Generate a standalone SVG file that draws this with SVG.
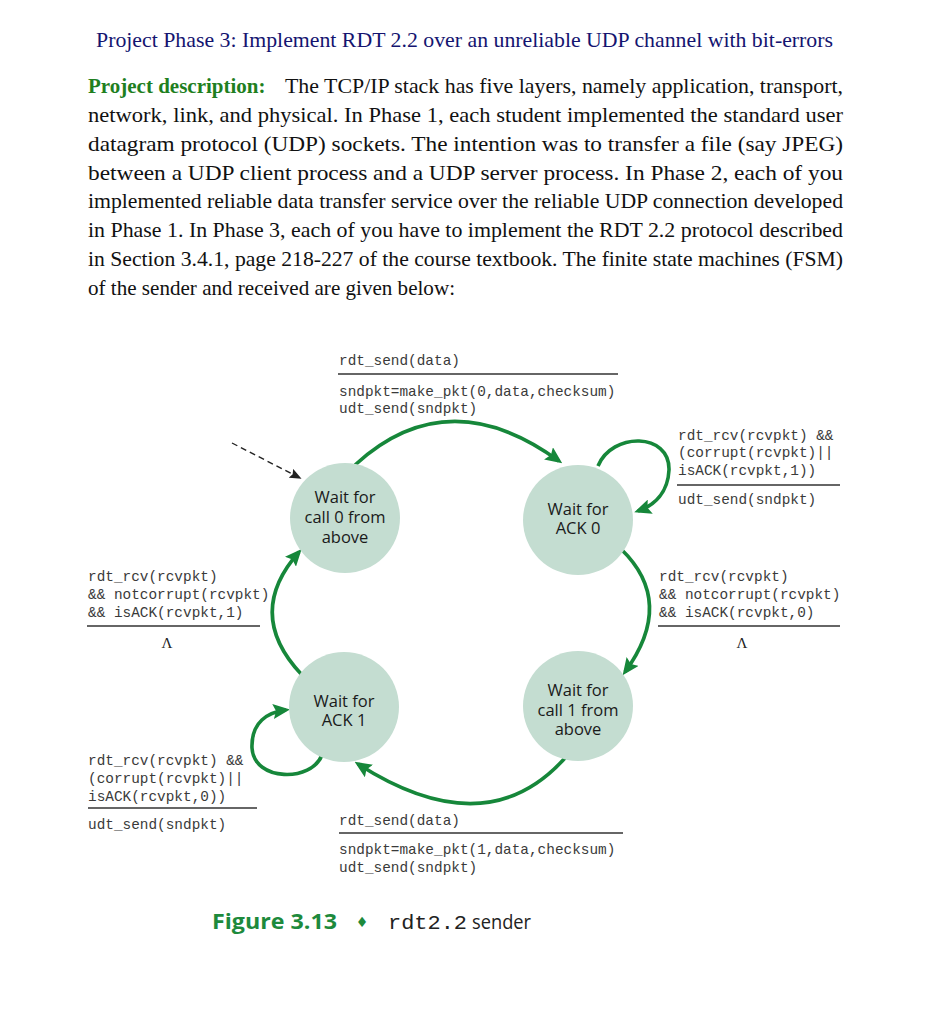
<svg xmlns="http://www.w3.org/2000/svg" width="932" height="1024" viewBox="0 0 932 1024">
<defs>
<style>
.title{font-family:"Liberation Serif","Times New Roman",serif;font-size:22px;fill:#141470}
.para{font-family:"Liberation Serif","Times New Roman",serif;font-size:21px;fill:#111}
.parab{font-family:"Liberation Serif","Times New Roman",serif;font-size:21px;font-weight:bold;fill:#1f7f1f}
.mono{font-family:"Liberation Mono","Courier New",monospace;font-size:14.4px;fill:#3a3a3a}
.lam{font-family:"Liberation Serif","Times New Roman",serif;font-size:15px;fill:#222}
.rule{stroke:#333;stroke-width:1.6}
.state{fill:#c4ddd1}
.stxt{font-family:"Open Sans","Noto Sans",sans-serif;font-size:16.5px;fill:#1a1a1a;text-anchor:middle}
.edge{fill:none;stroke:#16873a;stroke-width:3.6;marker-end:url(#ah)}
.init{fill:none;stroke:#222;stroke-width:1.4;stroke-dasharray:6 4;marker-end:url(#ahd)}
.capb{font-family:"Open Sans","Noto Sans",sans-serif;font-size:21px;font-weight:bold;fill:#1d8a3c}
.capm{font-family:"Liberation Mono","Courier New",monospace;font-size:20px;fill:#222}
.caps{font-family:"Open Sans","Noto Sans",sans-serif;font-size:20px;fill:#222}
</style>
<marker id="ah" markerUnits="userSpaceOnUse" markerWidth="17" markerHeight="15" viewBox="0 0 17 15" refX="13" refY="7.5" orient="auto">
<path d="M0,0 L17,7.5 L0,15 L3,7.5 z" fill="#16873a"/>
</marker>
<marker id="ahd" markerUnits="userSpaceOnUse" markerWidth="12" markerHeight="10" viewBox="0 0 12 10" refX="8" refY="5" orient="auto">
<path d="M0,0 L12,5 L0,10 L2,5 z" fill="#222"/>
</marker>
</defs>
<rect width="932" height="1024" fill="#ffffff"/>

<g id="header">
<text class="title" x="96" y="47" textLength="737" lengthAdjust="spacingAndGlyphs">Project Phase 3: Implement RDT 2.2 over an unreliable UDP channel with bit-errors</text>
<text class="parab" x="88" y="93">Project description:</text>
<text class="para" x="285" y="93" textLength="558" lengthAdjust="spacingAndGlyphs">The TCP/IP stack has five layers, namely application, transport,</text>
<text class="para" x="88" y="122" textLength="755" lengthAdjust="spacingAndGlyphs">network, link, and physical. In Phase 1, each student implemented the standard user</text>
<text class="para" x="88" y="151" textLength="755" lengthAdjust="spacingAndGlyphs">datagram protocol (UDP) sockets. The intention was to transfer a file (say JPEG)</text>
<text class="para" x="88" y="180" textLength="755" lengthAdjust="spacingAndGlyphs">between a UDP client process and a UDP server process. In Phase 2, each of you</text>
<text class="para" x="88" y="208" textLength="755" lengthAdjust="spacingAndGlyphs">implemented reliable data transfer service over the reliable UDP connection developed</text>
<text class="para" x="88" y="237" textLength="755" lengthAdjust="spacingAndGlyphs">in Phase 1. In Phase 3, each of you have to implement the RDT 2.2 protocol described</text>
<text class="para" x="88" y="266" textLength="755" lengthAdjust="spacingAndGlyphs">in Section 3.4.1, page 218-227 of the course textbook. The finite state machines (FSM)</text>
<text class="para" x="88" y="295" textLength="367" lengthAdjust="spacingAndGlyphs">of the sender and received are given below:</text>
</g>

<g id="connectors">
<path class="init" d="M232 443 L298 477"/>
<path class="edge" d="M355 465 Q448 380 559 461"/>
<path class="edge" d="M598 466 C612 432 670 432 669 470 C668 492 655 505 638 511"/>
<path class="edge" d="M621 549 Q676 602 625 672"/>
<path class="edge" d="M565 758 Q486 846 358 764"/>
<path class="edge" d="M322 755 C312 782 254 782 252 748 C251 722 268 712 286 710"/>
<path class="edge" d="M302 675 Q244 614 299 552"/>
</g>

<g id="state-wait-call0">
<circle class="state" cx="345" cy="518" r="55"/>
<text class="stxt" x="345" y="503">Wait for<tspan x="345" dy="20">call 0 from</tspan><tspan x="345" dy="20">above</tspan></text>
</g>
<g id="state-wait-ack0">
<circle class="state" cx="578" cy="520" r="55"/>
<text class="stxt" x="578" y="515">Wait for<tspan x="578" dy="19">ACK 0</tspan></text>
</g>
<g id="state-wait-ack1">
<circle class="state" cx="344" cy="707" r="55"/>
<text class="stxt" x="344" y="707">Wait for<tspan x="344" dy="19">ACK 1</tspan></text>
</g>
<g id="state-wait-call1">
<circle class="state" cx="578" cy="706" r="55"/>
<text class="stxt" x="578" y="696">Wait for<tspan x="578" dy="19.5">call 1 from</tspan><tspan x="578" dy="19.5">above</tspan></text>
</g>

<g id="label-top">
<text class="mono" x="339" y="365">rdt_send(data)</text>
<line class="rule" x1="338" y1="374" x2="618" y2="374"/>
<text class="mono" x="339" y="396">sndpkt=make_pkt(0,data,checksum)</text>
<text class="mono" x="339" y="413">udt_send(sndpkt)</text>
</g>
<g id="label-ack0-loop">
<text class="mono" x="678" y="440">rdt_rcv(rcvpkt) &amp;&amp;</text>
<text class="mono" x="678" y="457">(corrupt(rcvpkt)||</text>
<text class="mono" x="678" y="475">isACK(rcvpkt,1))</text>
<line class="rule" x1="677" y1="485" x2="840" y2="485"/>
<text class="mono" x="678" y="504">udt_send(sndpkt)</text>
</g>
<g id="label-left">
<text class="mono" x="88" y="581">rdt_rcv(rcvpkt)</text>
<text class="mono" x="88" y="599">&amp;&amp; notcorrupt(rcvpkt)</text>
<text class="mono" x="88" y="617">&amp;&amp; isACK(rcvpkt,1)</text>
<line class="rule" x1="87" y1="626" x2="260" y2="626"/>
<text class="lam" x="167" y="648" text-anchor="middle">Λ</text>
</g>
<g id="label-right">
<text class="mono" x="659" y="581">rdt_rcv(rcvpkt)</text>
<text class="mono" x="659" y="599">&amp;&amp; notcorrupt(rcvpkt)</text>
<text class="mono" x="659" y="617">&amp;&amp; isACK(rcvpkt,0)</text>
<line class="rule" x1="658" y1="626" x2="840" y2="626"/>
<text class="lam" x="742" y="648" text-anchor="middle">Λ</text>
</g>
<g id="label-ack1-loop">
<text class="mono" x="88" y="765">rdt_rcv(rcvpkt) &amp;&amp;</text>
<text class="mono" x="88" y="783">(corrupt(rcvpkt)||</text>
<text class="mono" x="88" y="801">isACK(rcvpkt,0))</text>
<line class="rule" x1="88" y1="808" x2="257" y2="808"/>
<text class="mono" x="88" y="829">udt_send(sndpkt)</text>
</g>
<g id="label-bottom">
<text class="mono" x="339" y="825">rdt_send(data)</text>
<line class="rule" x1="339" y1="833" x2="623" y2="833"/>
<text class="mono" x="339" y="854">sndpkt=make_pkt(1,data,checksum)</text>
<text class="mono" x="339" y="872">udt_send(sndpkt)</text>
</g>

<g id="caption">
<text class="capb" x="212" y="929" textLength="125" lengthAdjust="spacingAndGlyphs">Figure 3.13</text>
<text x="362" y="927" text-anchor="middle" style="font-family:'DejaVu Sans',sans-serif;font-size:14px;fill:#1d8a3c">♦</text>
<text class="capm" x="388" y="929" textLength="79" lengthAdjust="spacingAndGlyphs">rdt2.2</text>
<text class="caps" x="472" y="929" textLength="59" lengthAdjust="spacingAndGlyphs">sender</text>
</g>
</svg>
